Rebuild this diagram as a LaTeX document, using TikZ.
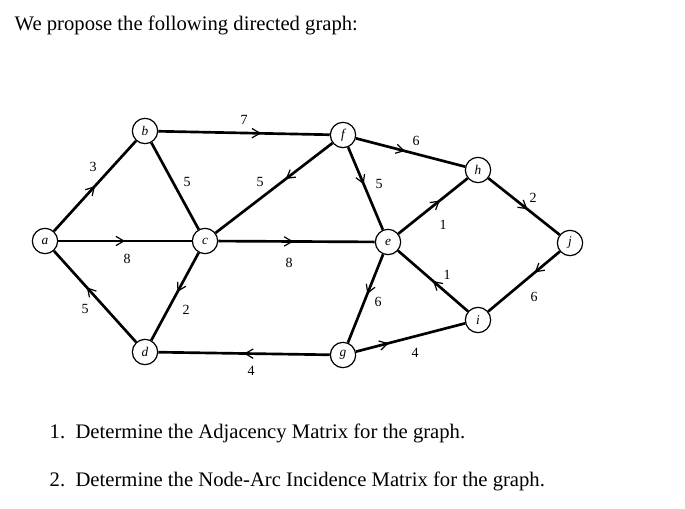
\documentclass[tikz,border=0pt]{standalone}
\usepackage{fontspec}
\setmainfont{Liberation Serif}
\usetikzlibrary{decorations.markings,arrows.meta}
\begin{document}
\begin{tikzpicture}[x=0.75pt,y=-0.75pt,
  vtx/.style={circle,draw,line width=0.9pt,minimum size=19pt,inner sep=0pt,font=\fontsize{10}{10}\selectfont\itshape,fill=white},
  edge/.style={line width=2pt},
  arr/.style={edge,decoration={markings,mark=at position #1 with {\arrow[line width=0.9pt]{Straight Barb[length=6pt,width=7pt]}}},postaction={decorate}},
  wt/.style={font=\fontsize{10.5}{10.5}\selectfont},
  txt/.style={font=\fontsize{15.5}{18}\selectfont,anchor=west}]
\useasboundingbox (0,0) rectangle (685,509);
\node[txt] (t0) at (10,25) {We propose the following directed graph:};
\node[txt] (t1) at (45,433) {1.\ \ Determine the Adjacency Matrix for the graph.};
\node[txt] (t2) at (45,481) {2.\ \ Determine the Node-Arc Incidence Matrix for the graph.};
\node[vtx] (a) at (45,241) {a};
\node[vtx] (b) at (145,131) {b};
\node[vtx] (c) at (205,241) {c};
\node[vtx] (d) at (145,352) {d};
\node[vtx] (f) at (343,135) {f};
\node[vtx] (e) at (388,242) {e};
\node[vtx] (g) at (343,355) {g};
\node[vtx] (h) at (478,170) {h};
\node[vtx] (i) at (478,320) {i};
\node[vtx] (j) at (570,243) {j};
\draw[arr=0.5] (a) -- (b);
\draw[arr=0.6] (b) -- (f);
\draw[edge] (b) -- (c);
\draw[arr=0.5] (a) -- (c);
\draw[arr=0.6] (d) -- (a);
\draw[arr=0.45] (c) -- (d);
\draw[arr=0.4] (f) -- (c);
\draw[arr=0.48] (c) -- (e);
\draw[arr=0.45] (f) -- (e);
\draw[arr=0.45] (f) -- (h);
\draw[arr=0.6] (e) -- (h);
\draw[arr=0.5] (i) -- (e);
\draw[arr=0.55] (h) -- (j);
\draw[arr=0.35] (j) -- (i);
\draw[arr=0.45] (e) -- (g);
\draw[arr=0.5] (g) -- (d);
\draw[arr=0.3] (g) -- (i);
\node[wt] (w1) at (93,167) {3};
\node[wt] (w2) at (244,120) {7};
\node[wt] (w3) at (187,182) {5};
\node[wt] (w4) at (127,259) {8};
\node[wt] (w5) at (85,309) {5};
\node[wt] (w6) at (186,310) {2};
\node[wt] (w7) at (260,182) {5};
\node[wt] (w8) at (289,263) {8};
\node[wt] (w9) at (379,184) {5};
\node[wt] (w10) at (416,141) {6};
\node[wt] (w11) at (443,225) {1};
\node[wt] (w12) at (447,275) {1};
\node[wt] (w13) at (533,198) {2};
\node[wt] (w14) at (534,297) {6};
\node[wt] (w15) at (378,302) {6};
\node[wt] (w16) at (415,353) {4};
\node[wt] (w17) at (251,371) {4};
\end{tikzpicture}
\end{document}
